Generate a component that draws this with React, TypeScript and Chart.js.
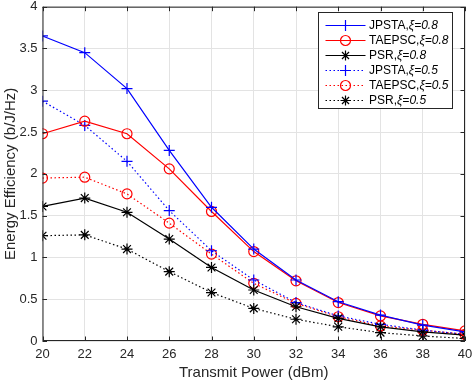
import React, { useEffect, useRef } from "react";
import { Chart, registerables } from "chart.js";

Chart.register(...registerables);

const powers = [20, 22, 24, 26, 28, 30, 32, 34, 36, 38, 40];
const jpsta08 = [3.65, 3.45, 3.02, 2.28, 1.6, 1.1, 0.73, 0.47, 0.31, 0.19, 0.11];
const taepsc08 = [2.48, 2.63, 2.48, 2.06, 1.55, 1.07, 0.72, 0.46, 0.3, 0.2, 0.12];
const psr08 = [1.61, 1.71, 1.54, 1.22, 0.88, 0.61, 0.41, 0.27, 0.17, 0.11, 0.07];
const jpsta05 = [2.87, 2.58, 2.15, 1.56, 1.08, 0.73, 0.46, 0.3, 0.2, 0.13, 0.08];
const taepsc05 = [1.95, 1.96, 1.76, 1.41, 1.04, 0.69, 0.45, 0.29, 0.18, 0.13, 0.08];
const psr05 = [1.26, 1.27, 1.1, 0.83, 0.58, 0.39, 0.26, 0.17, 0.1, 0.06, 0.03];

const seriesNames = ["JPSTA,", "TAEPSC,", "PSR,", "JPSTA,", "TAEPSC,", "PSR,"];
const seriesXi = ["ξ=0.8", "ξ=0.8", "ξ=0.8", "ξ=0.5", "ξ=0.5", "ξ=0.5"];
const seriesValues = [jpsta08, taepsc08, psr08, jpsta05, taepsc05, psr05];
const seriesColors = ["#0000ff", "#ff0000", "#000000", "#0000ff", "#ff0000", "#000000"];
const seriesMarkers = ["cross", "circle", "star", "cross", "circle", "star"];
const seriesDotted = [false, false, false, true, true, true];

const FONT = "'Liberation Sans', Arial, Helvetica, sans-serif";
const DOT = [1.5, 2.5];

function drawMarker(ctx: CanvasRenderingContext2D, style: string, x: number, y: number, color: string) {
  ctx.save();
  ctx.setLineDash([]);
  ctx.strokeStyle = color;
  ctx.lineWidth = 1.2;
  ctx.beginPath();
  if (style === "cross") {
    const r = 5.5;
    ctx.moveTo(x - r, y); ctx.lineTo(x + r, y);
    ctx.moveTo(x, y - r); ctx.lineTo(x, y + r);
  } else if (style === "circle") {
    ctx.arc(x, y, 5, 0, Math.PI * 2);
  } else {
    const r = 5;
    const d = r * 0.707;
    ctx.moveTo(x - r, y); ctx.lineTo(x + r, y);
    ctx.moveTo(x, y - r); ctx.lineTo(x, y + r);
    ctx.moveTo(x - d, y - d); ctx.lineTo(x + d, y + d);
    ctx.moveTo(x - d, y + d); ctx.lineTo(x + d, y - d);
  }
  ctx.stroke();
  ctx.restore();
}

const boxPlugin = {
  id: "matlabBox",
  afterDraw(chart: any) {
    const { ctx, chartArea } = chart;
    const { left, right, top, bottom } = chartArea;
    ctx.save();
    ctx.strokeStyle = "#262626";
    ctx.lineWidth = 1;
    ctx.setLineDash([]);
    ctx.strokeRect(left + 0.5, top + 0.5, right - left - 1, bottom - top - 1);
    const xs = chart.scales.x;
    const ys = chart.scales.y;
    const tl = 4.5;
    ctx.beginPath();
    xs.ticks.forEach((t: any) => {
      const px = Math.round(xs.getPixelForValue(t.value)) + 0.5;
      ctx.moveTo(px, bottom); ctx.lineTo(px, bottom - tl);
      ctx.moveTo(px, top); ctx.lineTo(px, top + tl);
    });
    ys.ticks.forEach((t: any) => {
      const py = Math.round(ys.getPixelForValue(t.value)) + 0.5;
      ctx.moveTo(left, py); ctx.lineTo(left + tl, py);
      ctx.moveTo(right, py); ctx.lineTo(right - tl, py);
    });
    ctx.stroke();

    // legend
    const bx = 318.5, by = 12.5, bw = 134, bh = 96;
    ctx.fillStyle = "#ffffff";
    ctx.fillRect(bx, by, bw, bh);
    ctx.strokeStyle = "#262626";
    ctx.strokeRect(bx, by, bw, bh);
    const rowH = 15.0;
    for (let i = 0; i < seriesNames.length; i++) {
      const cy = by + 13 + i * rowH;
      const color = seriesColors[i];
      ctx.save();
      ctx.strokeStyle = color;
      ctx.lineWidth = 1.2;
      ctx.setLineDash(seriesDotted[i] ? DOT : []);
      ctx.beginPath();
      ctx.moveTo(bx + 7, cy);
      ctx.lineTo(bx + 47, cy);
      ctx.stroke();
      ctx.restore();
      drawMarker(ctx, seriesMarkers[i], bx + 27, cy, color);
      ctx.fillStyle = "#000000";
      ctx.textBaseline = "middle";
      ctx.textAlign = "left";
      ctx.font = `12px ${FONT}`;
      const tx = bx + 50.5;
      ctx.fillText(seriesNames[i], tx, cy);
      const w = ctx.measureText(seriesNames[i]).width;
      ctx.font = `italic 12px ${FONT}`;
      ctx.fillText(seriesXi[i], tx + w, cy);
    }
    ctx.restore();
  },
};

export default function App() {
  const ref = useRef<HTMLCanvasElement | null>(null);
  useEffect(() => {
    if (!ref.current) return;
    const datasets = seriesValues.map((vals, i) => ({
      label: seriesNames[i] + seriesXi[i],
      data: vals,
      borderColor: seriesColors[i],
      backgroundColor: seriesColors[i],
      borderWidth: 1.2,
      borderDash: seriesDotted[i] ? DOT : [],
      pointStyle: seriesMarkers[i] as any,
      pointRadius: seriesMarkers[i] === "circle" ? 5 : 5.5,
      pointBorderWidth: 1.2,
      pointBorderColor: seriesColors[i],
      pointBackgroundColor: "rgba(0,0,0,0)",
      fill: false,
      tension: 0,
    }));
    const chart = new Chart(ref.current, {
      type: "line",
      data: { labels: powers.map(String), datasets },
      options: {
        animation: false,
        responsive: false,
        layout: { padding: { top: 5, right: 9, left: 0, bottom: 0 } },
        plugins: { legend: { display: false }, tooltip: { enabled: false } },
        scales: {
          x: {
            type: "linear",
            min: 20,
            max: 40,
            afterFit(scale: any) { scale.height = 43; scale.paddingRight = 0; scale.paddingLeft = 0; },
            ticks: { stepSize: 2, color: "#262626", font: { family: FONT, size: 13 }, padding: 6, maxRotation: 0 },
            grid: { color: "#e3e3e3", drawTicks: false },
            border: { display: false },
            title: { display: true, text: "Transmit Power (dBm)", color: "#262626", font: { family: FONT, size: 15 }, padding: { top: 0, bottom: 2 } },
          },
          y: {
            min: 0,
            max: 4,
            afterFit(scale: any) { scale.width = 42.5; scale.paddingTop = 0; scale.paddingBottom = 0; },
            ticks: { stepSize: 0.5, color: "#262626", font: { family: FONT, size: 13 }, padding: 5, callback: (v: any) => String(v) },
            grid: { color: "#e3e3e3", drawTicks: false },
            border: { display: false },
            title: { display: true, text: "Energy Efficiency (b/J/Hz)", color: "#262626", font: { family: FONT, size: 15 }, padding: { top: 2, bottom: 0 } },
          },
        },
      } as any,
      plugins: [boxPlugin],
    });
    return () => chart.destroy();
  }, []);
  return (
    <div style={{ position: "fixed", left: 0, top: 0, width: 474, height: 384, background: "#fff" }}>
      <canvas ref={ref} width={474} height={384} style={{ display: "block" }} />
    </div>
  );
}
